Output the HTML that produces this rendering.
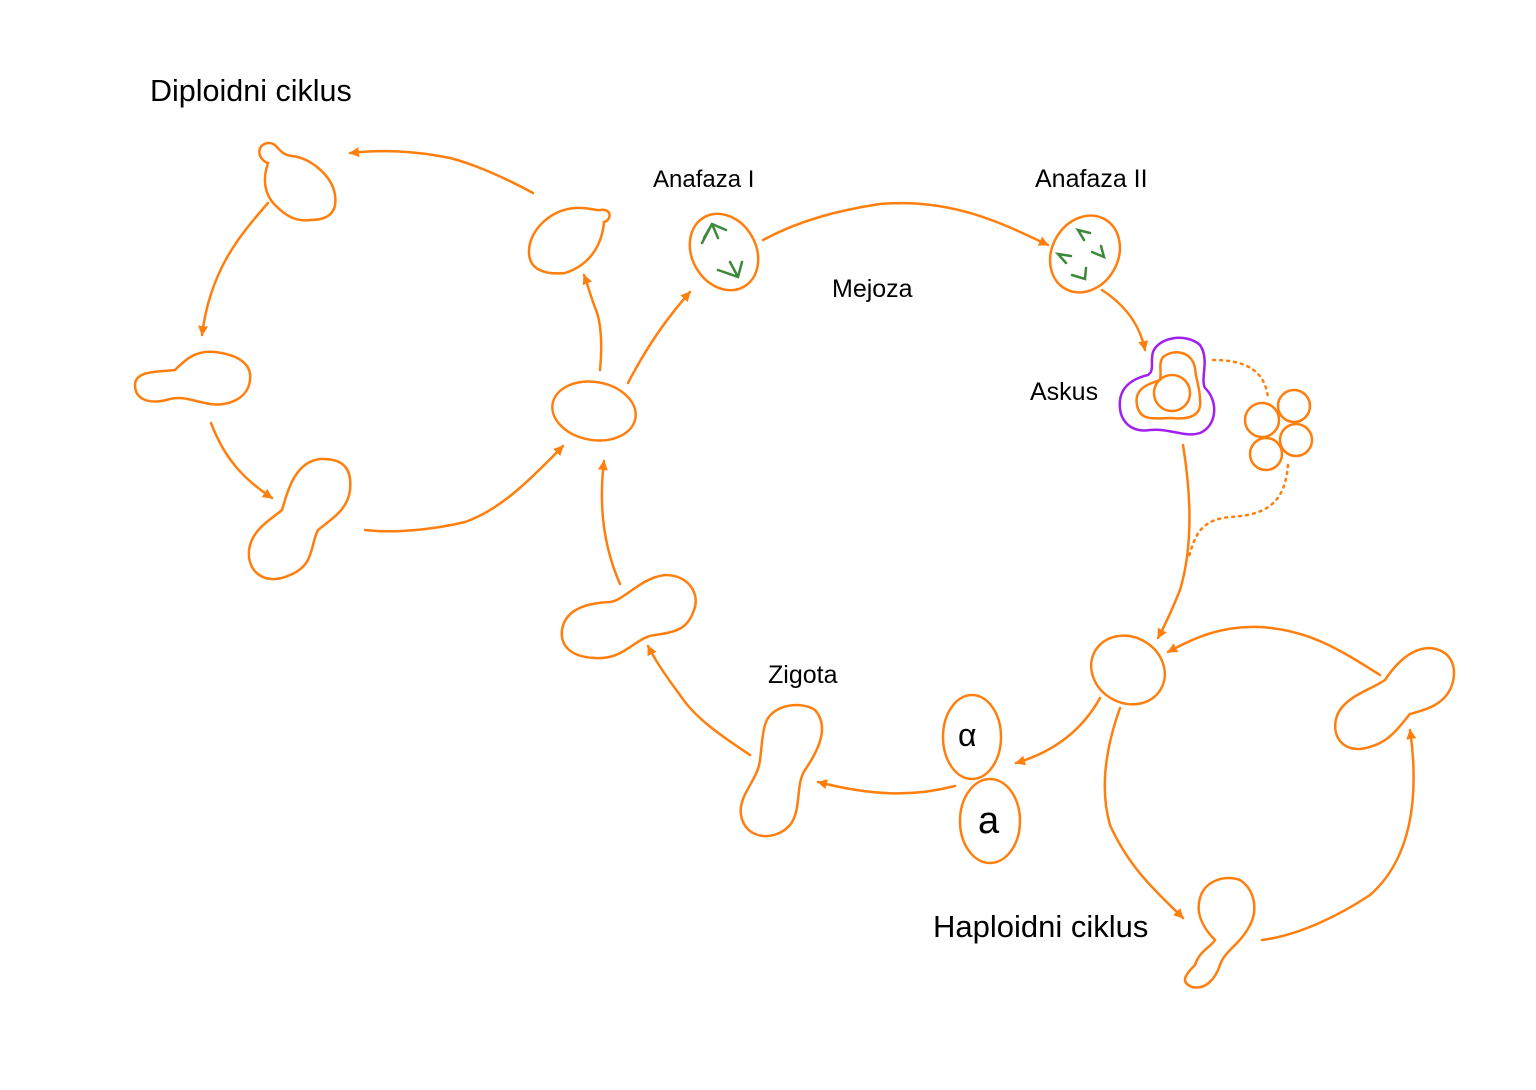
<!DOCTYPE html>
<html><head><meta charset="utf-8"><style>body{margin:0;background:#fff}svg{display:block}text{font-family:"Liberation Sans",sans-serif;fill:#000}</style></head>
<body>
<svg width="1536" height="1090" viewBox="0 0 1536 1090" xmlns="http://www.w3.org/2000/svg">
<defs>
<marker id="a" viewBox="0 0 10 10" refX="9" refY="5" markerWidth="4" markerHeight="4" orient="auto"><path d="M0 0L10 5L0 10Z" fill="#ff7f0e"/></marker>
</defs>
<g fill="none" stroke="#ff7f0e" stroke-width="2.5" stroke-linecap="round">
<path d="M268 163C258 160 255 145 268 143C278 142 278 155 292 156C310 158 332 175 335 195C338 215 325 220 310 220C295 222 285 215 275 205C265 195 262 180 268 163Z"/>
<path d="M600 210C612 208 612 220 604 222C602 245 590 265 565 273C545 275 528 270 529 250C530 230 550 210 575 208C590 207 595 211 600 210Z"/>
<path d="M135 385C135 370 160 372 175 370C185 360 195 350 215 352C240 355 252 365 250 380C248 400 225 408 205 403C190 400 182 396 170 399C150 405 135 400 135 385Z"/>
<path d="M250 545C255 528 270 520 282 510C288 490 295 462 320 459C345 458 352 470 350 490C348 510 330 520 318 530C310 545 315 565 290 575C262 588 244 568 250 545Z"/>
<ellipse cx="594" cy="411" rx="42" ry="29" transform="rotate(10 594 411)"/>
<ellipse cx="724" cy="252" rx="32" ry="40" transform="rotate(-30 724 252)"/>
<ellipse cx="1085" cy="254" rx="33" ry="40" transform="rotate(30 1085 254)"/>
<ellipse cx="1128" cy="670" rx="38" ry="33" transform="rotate(30 1128 670)"/>
<ellipse cx="972" cy="737" rx="29" ry="42"/>
<ellipse cx="990" cy="821" rx="30" ry="42"/>
<path d="M1340 710C1350 695 1370 690 1385 680C1395 665 1410 648 1430 648C1450 650 1458 665 1452 685C1445 705 1425 710 1410 714C1400 725 1390 745 1360 749C1335 750 1330 725 1340 710Z"/>
<path d="M1195 965C1200 950 1210 948 1215 940C1205 930 1195 915 1200 898C1205 880 1225 875 1240 880C1255 890 1258 910 1250 925C1240 945 1225 950 1220 965C1215 980 1205 990 1192 987C1180 982 1185 975 1195 965Z"/>
<path d="M765 725C770 705 800 700 815 710C828 725 822 745 805 770C795 785 802 810 790 825C775 842 745 840 741 815C738 795 758 780 760 760C762 745 762 735 765 725Z"/>
<path d="M562 630C565 610 585 603 610 602C625 600 640 578 665 575C690 575 700 595 694 610C688 628 678 632 655 635C635 637 625 660 595 658C570 657 560 645 562 630Z"/>
<path d="M1163 357C1175 348 1192 352 1195 368C1196 380 1200 388 1200 400C1202 415 1190 420 1172 418C1155 418 1140 422 1137 405C1134 390 1145 385 1160 380C1162 372 1158 364 1163 357Z"/>
<circle cx="1172" cy="393" r="18"/>
<path d="M1153 352C1158 338 1185 332 1200 345C1210 360 1200 378 1205 388C1218 400 1218 425 1200 433C1185 438 1170 428 1150 430C1130 433 1118 420 1120 400C1122 385 1135 378 1148 375C1155 370 1150 362 1153 352Z" stroke="#a020f0"/>
<circle cx="1262" cy="420" r="17"/><circle cx="1294" cy="406" r="16"/><circle cx="1296" cy="440" r="16"/><circle cx="1266" cy="454" r="16"/>
<g stroke-dasharray="2 5">
<path d="M1213 360C1245 360 1265 370 1268 398"/>
<path d="M1288 465C1285 500 1270 515 1230 517C1200 520 1195 535 1188 560"/>
</g>
<g marker-end="url(#a)">
<path d="M533 193C500 175 470 163 450 158C410 150 380 150 350 153"/>
<path d="M268 203C240 235 210 270 202 335"/>
<path d="M211 423C225 460 245 480 272 498"/>
<path d="M365 530C400 534 440 528 465 522C500 510 530 480 563 446"/>
<path d="M600 370C603 340 600 320 596 310C590 295 588 285 584 275"/>
<path d="M628 383C645 350 665 320 690 292"/>
<path d="M763 240C800 220 840 210 880 204C950 198 1000 222 1048 245"/>
<path d="M1102 290C1125 305 1140 325 1145 350"/>
<path d="M1183 445C1192 500 1192 550 1180 590C1172 610 1165 625 1158 638"/>
<path d="M1380 675C1340 650 1310 630 1260 627C1220 625 1190 640 1168 652"/>
<path d="M1262 940C1300 935 1340 915 1370 895C1410 860 1420 800 1410 730"/>
<path d="M1120 708C1105 750 1100 790 1110 825C1130 870 1160 895 1183 918"/>
<path d="M1100 698C1085 725 1060 750 1016 763"/>
<path d="M955 786C920 795 880 798 818 782"/>
<path d="M750 755C720 735 695 718 680 695C665 675 655 660 648 646"/>
<path d="M620 584C605 550 598 510 604 461"/>
</g>
</g>
<g fill="none" stroke="#3a8a3a" stroke-width="2.5" stroke-linecap="round">
<path d="M702 243L712 224L726 230M712 224L718 238M712 224L704 238"/>
<path d="M718 270L738 277L742 262M738 277L730 262M738 277L724 272"/>
<path d="M1090 233L1078 230L1084 240"/>
<path d="M1092 252L1104 257L1101 246"/>
<path d="M1071 256L1058 254L1066 263"/>
<path d="M1072 275L1085 279L1086 268"/>
</g>
<g font-size="25">
<text x="150" y="101" font-size="30.5">Diploidni ciklus</text>
<text x="653" y="187" font-size="24">Anafaza I</text>
<text x="1035" y="187">Anafaza II</text>
<text x="832" y="297">Mejoza</text>
<text x="1030" y="400">Askus</text>
<text x="768" y="683">Zigota</text>
<text x="933" y="937" font-size="31">Haploidni ciklus</text>
<text x="958" y="746" font-size="32" fill="#333">α</text>
<text x="978" y="833" font-size="38">a</text>
</g>
</svg>
</body></html>
